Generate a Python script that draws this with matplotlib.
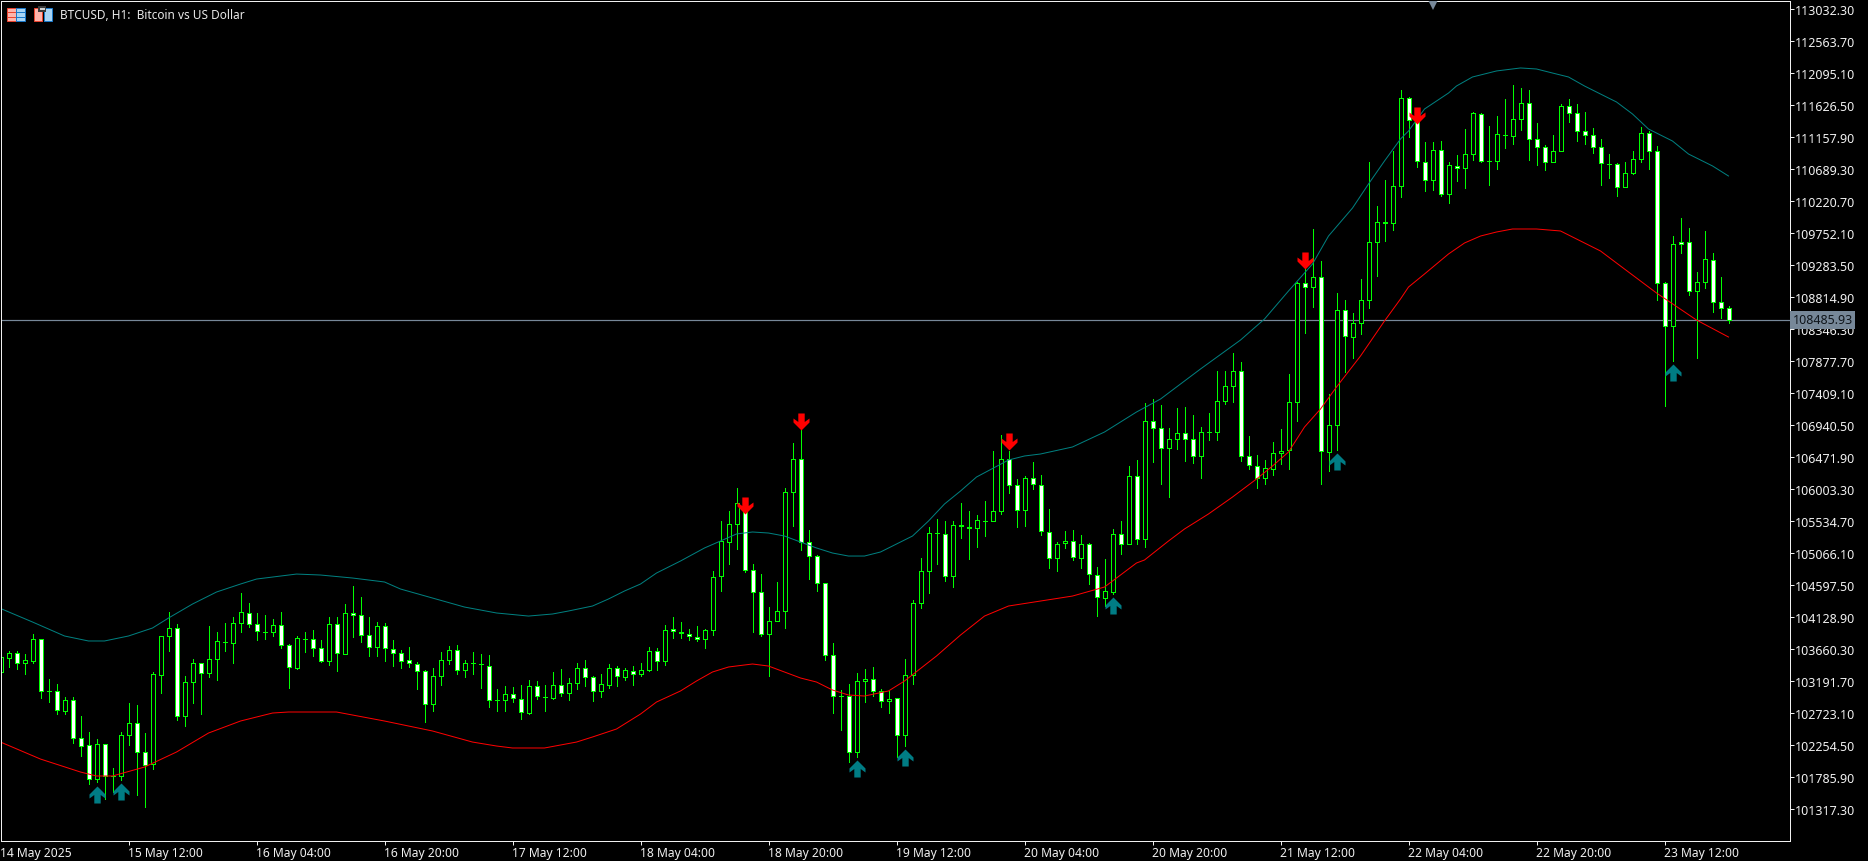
import numpy as np
import matplotlib
matplotlib.use('Agg')
import matplotlib.pyplot as plt
from matplotlib.patches import Rectangle
from matplotlib.path import Path

W, H = 1868, 862
FONT = 'Noto Sans'

opens = [103331,103535,103608,103462,103491,103814,103053,103053,102759,102920,
102364,102262,101764,102276,101808,101808,102408,102584,102159,101983,
103287,103858,103975,102686,103184,103462,103316,103521,103770,103755,
104048,104195,104033,103916,103916,104019,103726,103389,103814,103814,
103682,103491,104033,103594,104195,104165,103872,103697,104004,103667,
103608,103506,103448,103345,102862,103272,103506,103653,103360,103462,
103448,103418,102920,102920,103008,102935,102730,103126,102964,102950,
103140,103023,103170,103389,103257,103053,103140,103389,103257,103345,
103302,103360,103638,103491,103960,103916,103887,103843,103814,103945,
104736,105234,105498,105761,104824,104502,103887,104078,104224,105967,
106450,105234,105029,104634,103580,102979,102979,102159,103199,103228,
103053,102906,102950,102408,103287,104341,104810,105366,105352,104736,
105483,105454,105439,105542,105542,105688,106450,106069,105703,106171,
106069,105381,105000,105220,105249,105000,105205,104751,104414,104502,
105352,105205,106201,105278,107006,106904,106611,106743,106830,106743,
106494,106845,106845,107299,107519,107738,106494,106347,106171,106303,
106538,106582,107284,109027,108968,109115,106552,106948,108632,108236,
108441,108778,109628,109920,109906,110448,111736,111414,110799,110535,
110975,110330,110741,110711,110916,111502,110814,110814,111194,111180,
111429,111663,111136,111019,110799,110960,111619,111517,111253,111194,
111019,110770,110770,110433,110638,110843,111224,110960,109027,108397,
109628,109628,108910,109042,109364,108749,108661]

closes = [103550,103608,103462,103506,103814,103053,103053,102774,102920,102364,
102247,101764,102276,101808,101808,102408,102584,102159,101969,103302,
103858,103975,102686,103184,103462,103316,103521,103785,103770,104048,
104209,104033,103931,103916,104019,103726,103404,103828,103814,103682,
103491,104033,103608,104195,104165,103872,103697,104004,103682,103608,
103491,103462,103345,102862,103272,103506,103653,103360,103462,103462,
103448,102920,102920,103008,102950,102745,103126,102979,102964,103140,
103023,103170,103389,103257,103053,103155,103389,103272,103360,103302,
103360,103638,103491,103945,103931,103902,103858,103814,103945,104722,
105249,105498,105805,104824,104502,103887,104078,104224,105967,106450,
105234,105029,104634,103580,102979,102979,102159,103199,103228,103053,
102906,102935,102408,103287,104341,104810,105366,105366,104736,105483,
105469,105439,105556,105542,105688,106450,106069,105703,106171,106084,
105395,105000,105205,105249,105015,105205,104765,104429,104517,105352,
105205,106201,105278,107006,106904,106611,106743,106830,106743,106494,
106845,106845,107299,107519,107738,106494,106362,106171,106318,106538,
106567,107284,109027,108968,109115,106567,106948,108632,108251,108441,
108778,109628,109920,109906,110448,111736,111414,110814,110535,110975,
110330,110755,110711,110916,111517,110814,110814,111209,111194,111429,
111663,111136,111019,110799,110960,111619,111517,111253,111194,111019,
110784,110770,110433,110638,110843,111224,110960,109027,108397,109598,
109598,108910,109042,109379,108749,108661,108486]

highs = [103594,103638,103638,103594,103887,103814,103228,103155,102964,102964,
102686,102452,102349,102276,101925,102452,102876,102847,102437,103331,
103858,104209,104033,103272,103521,103462,104004,103916,104048,104136,
104487,104341,104195,104165,104107,104209,103741,103858,103916,103945,
103799,104136,104136,104326,104590,104429,104136,104063,104048,103799,
103653,103697,103477,103360,103389,103623,103711,103726,103506,103623,
103594,103580,103082,103126,103111,103140,103213,103199,103140,103331,
103375,103243,103462,103506,103272,103302,103448,103418,103389,103418,
103462,103697,103682,104019,104136,104063,103960,104004,103960,104810,
105542,105688,106025,105791,104912,104765,104282,104649,106025,106684,
106889,105410,105044,104634,103755,103067,103155,103316,103375,103404,
103082,103053,102950,103521,104385,105000,105454,105571,105542,105542,
105805,105688,105630,105835,106567,106801,106567,106157,106201,106406,
106215,105718,105234,105395,105410,105337,105220,104868,104985,105425,
105542,106347,106435,107270,107328,107240,106904,107197,107211,107094,
106918,107123,107738,107738,108002,107870,106787,106508,106435,106699,
106889,107694,109042,109232,109818,109349,107402,108881,108778,108588,
109086,110799,110155,110535,110960,111853,111751,111575,111092,111092,
111106,110799,110902,111282,111531,111517,111326,111473,111722,111927,
111883,111853,111370,111048,111194,111648,111722,111648,111531,111297,
111136,110916,110784,110799,110960,111312,111253,111033,109042,109715,
109979,109833,109188,109789,109466,109115,108690]

lows = [103272,103404,103375,103302,103462,102950,102891,102715,102715,102291,
102100,101691,101720,101471,101573,101749,102262,101530,101354,101910,
103023,103638,102628,102540,102876,102715,103257,103213,103638,103462,
103916,103989,103799,103814,103858,103682,103096,103375,103623,103565,
103477,103433,103345,103594,103843,103770,103565,103565,103491,103418,
103389,103404,103082,102598,102759,103140,103448,103302,103257,103302,
103096,102818,102759,102759,102891,102642,102715,102935,102759,102935,
102979,102920,103082,103126,102906,102964,103096,103126,103213,103140,
103272,103345,103360,103433,103828,103828,103799,103785,103682,103872,
104517,104912,105132,104795,103916,103858,103272,104078,103975,105469,
105117,104692,104517,103506,102730,102481,102012,102086,102891,102979,
102818,102730,102086,102247,103155,104268,104487,104912,104663,104575,
105293,104985,105161,105322,105542,105645,105952,105454,105469,106010,
105337,104854,104810,105147,104971,104854,104619,104150,104297,104473,
105059,105205,105205,105161,106406,106084,105893,106596,106421,106391,
106171,106728,106728,107255,107284,106421,106303,106025,106084,106215,
106377,106303,107006,108295,108676,106084,106274,106582,107724,107929,
108280,108661,109130,109642,109803,110286,111165,110726,110374,110389,
110301,110199,110521,110418,110828,110799,110462,110697,111004,111063,
111268,110828,110755,110682,110799,110960,111385,111106,111063,110931,
110462,110565,110301,110433,110623,110799,110697,108778,107226,107885,
109466,108851,107929,108954,108603,108515,108441]

upper_idx = [0,4,8,11,13,16,19,21,24,27,30,32,37,40,44,48,50,54,58,62,66,69,71,74,76,78,80,82,85,88,
             90,92,94,96,98,100,102,104,106,108,110,112,114,116,118,120,122,126,128,130,134,138,142,
             145,150,155,158,161,164,166,169,171,173,175,176,178,181,182,184,187,190,192,194,196,198,
             201,202,204,206,209,211,214,216]
upper_band = [104261,104063,103858,103785,103785,103858,103975,104121,104326,104502,104619,104692,
              104765,104751,104707,104649,104546,104414,104282,104195,104150,104180,104224,104297,
              104400,104517,104619,104780,104956,105147,105249,105352,105381,105366,105322,105234,
              105147,105073,105029,105029,105088,105205,105322,105542,105791,105981,106186,106435,
              106494,106523,106626,106845,107138,107328,107768,108192,108500,108910,109305,109715,
              110125,110477,110814,111136,111253,111575,111809,111912,112044,112132,112176,112161,
              112102,112044,111912,111736,111678,111502,111282,111106,110916,110741,110594]

lower_idx = [0,5,10,12,14,18,22,26,30,34,36,42,48,54,59,62,64,68,72,74,77,80,82,85,87,89,91,94,96,
             100,102,104,106,108,111,113,117,120,123,126,130,134,138,142,143,146,148,151,154,157,
             159,161,163,165,167,170,173,175,176,178,181,183,185,187,189,192,195,200,203,207,212,216]
lower_band = [102305,102056,101866,101808,101808,101939,102159,102437,102613,102730,102745,102745,
              102613,102467,102305,102247,102218,102218,102305,102379,102496,102715,102891,103053,
              103199,103331,103404,103448,103418,103243,103184,103067,102994,102979,103053,103199,
              103565,103872,104150,104297,104370,104443,104575,104927,104971,105249,105425,105645,
              105893,106157,106347,106552,106918,107182,107504,107958,108471,108793,108968,109159,
              109452,109613,109715,109774,109818,109818,109789,109496,109232,108881,108485,108236]

buy_idx = [12,15,107,113,139,167,209]
buy_price = [101661,101705,102042,102203,104429,106538,107841]
sell_idx = [93,100,126,163,177]
sell_price = [105645,106875,106581,109232,111355]

price_ticks = [113032.30,112563.70,112095.10,111626.50,111157.90,110689.30,110220.70,109752.10,
               109283.50,108814.90,108346.30,107877.70,107409.10,106940.50,106471.90,106003.30,
               105534.70,105066.10,104597.50,104128.90,103660.30,103191.70,102723.10,102254.50,
               101785.90,101317.30]
time_idx = [0,16,32,48,64,80,96,112,128,144,160,176,192,208]
time_labels = ['14 May 2025','15 May 12:00','16 May 04:00','16 May 20:00','17 May 12:00',
               '18 May 04:00','18 May 20:00','19 May 12:00','20 May 04:00','20 May 20:00',
               '21 May 12:00','22 May 04:00','22 May 20:00','23 May 12:00']
last_price = 108485.93
title = 'BTCUSD, H1:  Bitcoin vs US Dollar'

LIME = '#00ff00'
TEAL = '#008080'
RED = '#ff0000'
SLATE = '#778899'
AXIS = '#f0f0f0'
PX = 0.72  # one pixel at dpi 100, in points

fig = plt.figure(figsize=(W / 100, H / 100), dpi=100, facecolor='black')
ax = fig.add_axes([0.5 / W, 20 / H, 1789 / W, 840.5 / H], facecolor='black')
ax.set_xlim(0, 223.625)
ax.set_ylim(100856, 113164)

idx = np.arange(len(opens))
o = np.array(opens, dtype=float)
c = np.array(closes, dtype=float)

ax.axhline(last_price, color=SLATE, lw=PX * 1.2, zorder=1)

# wicks, then bodies on top (white = down bar, black = up bar)
ax.vlines(idx, lows, highs, color=LIME, lw=PX, antialiased=False, zorder=2)
faces = ['black' if up else 'white' for up in c >= o]
ax.bar(idx, np.abs(c - o), bottom=np.minimum(o, c), width=0.5, color=faces,
       edgecolor=LIME, linewidth=PX, antialiased=False, zorder=3)

ax.plot(upper_idx, upper_band, color=TEAL, lw=PX, zorder=4)
ax.plot(lower_idx, lower_band, color=RED, lw=PX, zorder=4)

# signal arrows, tip sits on the origin of the marker
up_arrow = Path([(0, 0), (8, -8), (8, -12), (3.2, -8.5), (3.2, -17), (-3.2, -17), (-3.2, -8.5),
                 (-8, -12), (-8, -8), (0, 0)], closed=True)
down_arrow = Path([(0, 0), (8, 8), (8, 12), (3.2, 8.5), (3.2, 17), (-3.2, 17), (-3.2, 8.5),
                   (-8, 12), (-8, 8), (0, 0)], closed=True)
ax.plot(buy_idx, buy_price, ls='none', marker=up_arrow, ms=24.5, mfc='#007c84', mew=0, zorder=5)
ax.plot(sell_idx, sell_price, ls='none', marker=down_arrow, ms=24.5, mfc=RED, mew=0, zorder=5)

for s in ax.spines.values():
    s.set_color(AXIS)
    s.set_linewidth(PX)
    s.set_zorder(6)

ax.yaxis.tick_right()
ax.set_yticks(price_ticks)
ax.set_yticklabels(['%.2f' % p for p in price_ticks], fontname=FONT, fontsize=9, color=AXIS)
ax.set_xticks(time_idx)
ax.set_xticklabels(time_labels, fontname=FONT, fontsize=8.7, color=AXIS, ha='left')
ax.tick_params(axis='y', length=3, width=PX, color=AXIS, pad=0.8)
ax.tick_params(axis='x', length=3, width=PX, color=AXIS, pad=0.8)
ax.xaxis.get_major_ticks()[0].tick1line.set_visible(False)

ax.text(1.0018, last_price, '%.2f' % last_price, transform=ax.get_yaxis_transform(),
        fontname=FONT, fontsize=9, color='#10161c', va='center', ha='left', zorder=7, clip_on=False,
        bbox=dict(facecolor=SLATE, edgecolor='none', pad=1.8))

# chart shift marker at the top edge
ax.plot([179], [113127], ls='none', marker='v', ms=10, mfc=SLATE, mew=0, zorder=7)

# header icons and title, drawn in pixel coordinates
over = fig.add_axes([0, 0, 1, 1])
over.set_xlim(0, W)
over.set_ylim(H, 0)
over.axis('off')
over.patch.set_visible(False)

over.add_patch(Rectangle((6.5, 8.5), 9, 13, fc='#ffb4ac', ec='#e8442f', lw=PX))
over.add_patch(Rectangle((15.5, 8.5), 9.5, 13, fc='#a8d4f4', ec='#1b78c8', lw=PX))
for yy in (12.5, 17.5):
    over.plot([7, 15], [yy, yy], color='#e8442f', lw=PX)
    over.plot([16, 24.5], [yy, yy], color='#1b78c8', lw=PX)
over.add_patch(Rectangle((33.5, 8.5), 8, 13, fc='#ffb4ac', ec='#e8442f', lw=PX))
over.add_patch(Rectangle((44, 8.5), 7.5, 13, fc='#a8d4f4', ec='#1b78c8', lw=PX))
over.add_patch(Rectangle((38, 7), 8, 6, fc='#3a3a3a', ec='none'))
over.add_patch(Rectangle((40, 8.5), 4.5, 2.5, fc='#d0d0d0', ec='none'))

over.text(59.5, 15.5, title, fontname=FONT, fontsize=8.5, color='#e8e8e8', va='center', ha='left')

fig.savefig('out.png', dpi=100, facecolor='black')
